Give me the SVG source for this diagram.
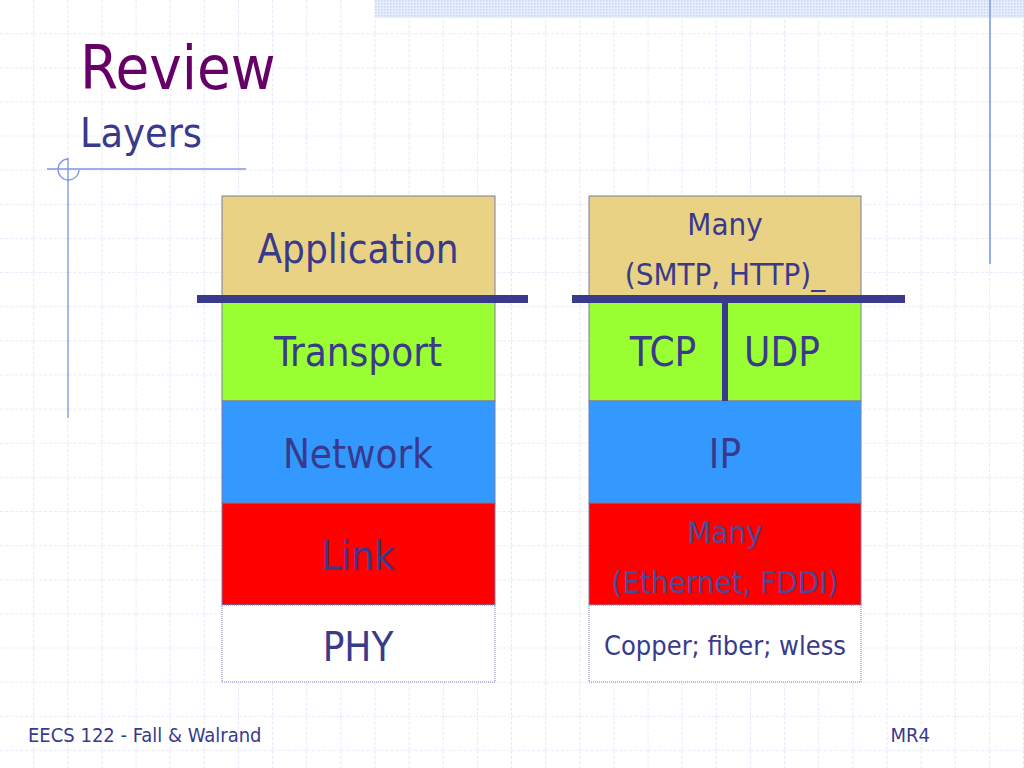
<svg xmlns="http://www.w3.org/2000/svg" width="1024" height="768" viewBox="0 0 1024 768">
<defs>
<pattern id="grid" x="0" y="0" width="34.133" height="34.133" patternUnits="userSpaceOnUse">
<path d="M34.133 0V34.133M0 34.133H34.133" fill="none" stroke="#cfd8f3" stroke-width="1.2" stroke-dasharray="3 2"/>
</pattern>
<pattern id="dots" x="0" y="0" width="3" height="3" patternUnits="userSpaceOnUse">
<rect width="3" height="3" fill="#e6edfb"/>
<rect width="1.5" height="1.5" fill="#c9d7f5"/>
</pattern>
</defs>
<style>
.t{font-family:"DejaVu Sans Condensed","DejaVu Sans",sans-serif;font-stretch:condensed;fill:#3a3a8c;text-anchor:middle}
.box{stroke:#7a7aa8;stroke-width:1}
.bar{fill:#3a3a8c}
</style>
<rect width="1024" height="768" fill="#ffffff"/>
<rect width="1024" height="768" fill="url(#grid)"/>
<rect x="375" y="0" width="649" height="18" fill="url(#dots)"/>
<line x1="990" y1="0" x2="990" y2="264" stroke="#98ace6" stroke-width="2"/>
<g id="corner" stroke="#7f96e0" stroke-width="1.3" fill="none">
<line x1="47" y1="169" x2="246" y2="169"/>
<line x1="68" y1="158" x2="68" y2="418"/>
<path d="M68 159 A10.5 10.5 0 1 0 79 170"/>
</g>
<text x="80" y="89" style="font-family:'DejaVu Sans Condensed','DejaVu Sans',sans-serif;font-stretch:condensed;font-size:61px;fill:#660066">Review</text>
<text x="80" y="147" style="font-family:'DejaVu Sans Condensed','DejaVu Sans',sans-serif;font-stretch:condensed;font-size:41px;fill:#3a3a8c">Layers</text>

<g id="application">
<rect class="box" x="222" y="196" width="273" height="103" fill="#e9d283"/>
<text class="t" x="358" y="263" font-size="40">Application</text>
</g>
<g id="transport">
<rect class="box" x="222" y="299" width="273" height="102" fill="#99ff33"/>
<text class="t" x="358" y="366" font-size="40">Transport</text>
</g>
<g id="network">
<rect class="box" x="222" y="401" width="273" height="102" fill="#3399ff"/>
<text class="t" x="358" y="468" font-size="40">Network</text>
</g>
<g id="link">
<rect class="box" x="222" y="503" width="273" height="102" fill="#ff0000"/>
<text class="t" x="358" y="570" font-size="40">Link</text>
</g>
<g id="phy">
<rect x="222" y="605" width="273" height="77" fill="#ffffff" stroke="#7a7aa8" stroke-width="1" stroke-dasharray="1 1"/>
<text class="t" x="358" y="661" font-size="40">PHY</text>
</g>

<g id="many-app">
<rect class="box" x="589" y="196" width="272" height="103" fill="#e9d283"/>
<text class="t" x="725" y="235" font-size="31">Many</text>
<text class="t" x="725" y="285" font-size="31">(SMTP, HTTP)_</text>
</g>
<g id="tcp-udp">
<rect class="box" x="589" y="299" width="272" height="102" fill="#99ff33"/>
<text class="t" x="663" y="366" font-size="40">TCP</text>
<text class="t" x="782" y="366" font-size="40">UDP</text>
</g>
<g id="ip">
<rect class="box" x="589" y="401" width="272" height="102" fill="#3399ff"/>
<text class="t" x="725" y="468" font-size="40">IP</text>
</g>
<g id="many-link">
<rect class="box" x="589" y="503" width="272" height="102" fill="#ff0000"/>
<text class="t" x="725" y="543" font-size="31" style="fill:#4a4a9a">Many</text>
<text class="t" x="725" y="593" font-size="31" style="fill:#4a4a9a">(Ethernet, FDDI)</text>
</g>
<g id="copper">
<rect x="589" y="605" width="272" height="77" fill="#ffffff" stroke="#7a7aa8" stroke-width="1" stroke-dasharray="1 1"/>
<text class="t" x="725" y="655" font-size="27">Copper; fiber; wless</text>
</g>

<g id="connectors">
<rect class="bar" x="197" y="295" width="331" height="8"/>
<rect class="bar" x="572" y="295" width="333" height="8"/>
<rect class="bar" x="722" y="299" width="6" height="102"/>
</g>

<text x="28" y="742" style="font-family:'DejaVu Sans Condensed','DejaVu Sans',sans-serif;font-stretch:condensed;font-size:20px;fill:#3a3a8c">EECS 122 - Fall &amp; Walrand</text>
<text x="930" y="742" text-anchor="end" style="font-family:'DejaVu Sans Condensed','DejaVu Sans',sans-serif;font-stretch:condensed;font-size:20px;fill:#3a3a8c">MR4</text>
</svg>
